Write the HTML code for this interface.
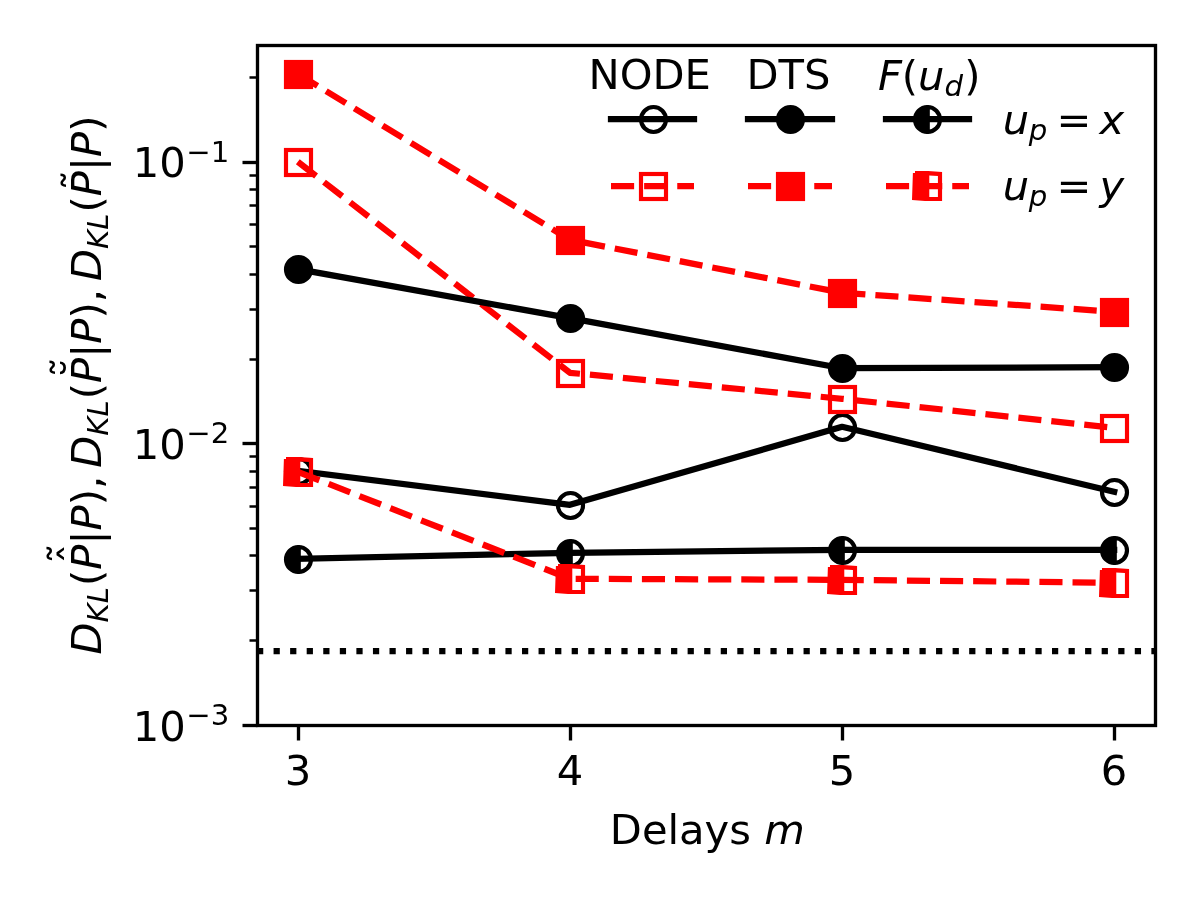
<!DOCTYPE html>
<html lang="en">
<head>
<meta charset="utf-8">
<title>KL divergence vs delays</title>
<style>
html,body{margin:0;padding:0;background:#fff;width:1200px;height:900px;overflow:hidden}
svg{display:block}
text{white-space:pre}
.i{font-style:oblique}
.s{font-size:29.167px}
.si{font-size:29.167px;font-style:oblique}
</style>
</head>
<body>
<svg width="1200" height="900" viewBox="0 0 1200 900">
<defs><clipPath id="ax"><rect x="257" y="45" width="898" height="679.75"/></clipPath></defs>
<rect width="1200" height="900" fill="#fff"/>
<g stroke="#000" stroke-width="3.333" fill="none">
<path d="M298.5 725.5 V740.5"/>
<path d="M570.5 725.5 V740.5"/>
<path d="M842.5 725.5 V740.5"/>
<path d="M1114.5 725.5 V740.5"/>
<path d="M257.5 725.5 H242.5"/>
<path d="M257.5 443.5 H242.5"/>
<path d="M257.5 162.5 H242.5"/>
</g>
<g stroke="#000" stroke-width="2.5" fill="none">
<path d="M257.5 640.5 H249.5"/>
<path d="M257.5 590.5 H249.5"/>
<path d="M257.5 555.5 H249.5"/>
<path d="M257.5 528.5 H249.5"/>
<path d="M257.5 506.5 H249.5"/>
<path d="M257.5 487.5 H249.5"/>
<path d="M257.5 471.5 H249.5"/>
<path d="M257.5 456.5 H249.5"/>
<path d="M257.5 359.5 H249.5"/>
<path d="M257.5 309.5 H249.5"/>
<path d="M257.5 274.5 H249.5"/>
<path d="M257.5 246.5 H249.5"/>
<path d="M257.5 224.5 H249.5"/>
<path d="M257.5 205.5 H249.5"/>
<path d="M257.5 189.5 H249.5"/>
<path d="M257.5 175.5 H249.5"/>
<path d="M257.5 77.5 H249.5"/>
</g>
<g clip-path="url(#ax)">
<path d="M297.818 470.8 L569.939 504.8 L842.061 426.8 L1114.182 491.8" fill="none" stroke="#000" stroke-width="6.25" stroke-linejoin="round" stroke-linecap="square"/>
<circle cx="298.5" cy="471.5" r="12.5" fill="none" stroke="#000" stroke-width="4.167"/>
<circle cx="570.5" cy="505.5" r="12.5" fill="none" stroke="#000" stroke-width="4.167"/>
<circle cx="842.5" cy="427.5" r="12.5" fill="none" stroke="#000" stroke-width="4.167"/>
<circle cx="1114.5" cy="492.5" r="12.5" fill="none" stroke="#000" stroke-width="4.167"/>
<path d="M297.818 161.8 L569.939 372.8 L842.061 398.8 L1114.182 427.8" fill="none" stroke="#f00" stroke-width="6.25" stroke-linejoin="round" stroke-dasharray="23.125 10" stroke-linecap="butt"/>
<rect x="286" y="150" width="25" height="25" fill="none" stroke="#f00" stroke-width="4.167" stroke-linejoin="miter"/>
<rect x="558" y="361" width="25" height="25" fill="none" stroke="#f00" stroke-width="4.167" stroke-linejoin="miter"/>
<rect x="830" y="387" width="25" height="25" fill="none" stroke="#f00" stroke-width="4.167" stroke-linejoin="miter"/>
<rect x="1102" y="416" width="25" height="25" fill="none" stroke="#f00" stroke-width="4.167" stroke-linejoin="miter"/>
<path d="M297.818 269.2 L569.939 318.2 L842.061 368.2 L1114.182 367.2" fill="none" stroke="#000" stroke-width="6.25" stroke-linejoin="round" stroke-linecap="square"/>
<circle cx="298.5" cy="269.5" r="12.5" fill="#000" stroke="#000" stroke-width="4.167"/>
<circle cx="570.5" cy="318.5" r="12.5" fill="#000" stroke="#000" stroke-width="4.167"/>
<circle cx="842.5" cy="368.5" r="12.5" fill="#000" stroke="#000" stroke-width="4.167"/>
<circle cx="1114.5" cy="367.5" r="12.5" fill="#000" stroke="#000" stroke-width="4.167"/>
<path d="M297.818 73.8 L569.939 239.8 L842.061 292.8 L1114.182 311.8" fill="none" stroke="#f00" stroke-width="6.25" stroke-linejoin="round" stroke-dasharray="23.125 10" stroke-linecap="butt"/>
<rect x="286" y="62" width="25" height="25" fill="#f00" stroke="#f00" stroke-width="4.167" stroke-linejoin="miter"/>
<rect x="558" y="228" width="25" height="25" fill="#f00" stroke="#f00" stroke-width="4.167" stroke-linejoin="miter"/>
<rect x="830" y="281" width="25" height="25" fill="#f00" stroke="#f00" stroke-width="4.167" stroke-linejoin="miter"/>
<rect x="1102" y="300" width="25" height="25" fill="#f00" stroke="#f00" stroke-width="4.167" stroke-linejoin="miter"/>
<path d="M297.818 558.8 L569.939 552.8 L842.061 549.8 L1114.182 549.8" fill="none" stroke="#000" stroke-width="6.25" stroke-linejoin="round" stroke-linecap="square"/>
<path d="M298.5 547 A12.5 12.5 0 0 0 298.5 572 Z" fill="#000" stroke="#000" stroke-width="4.167" stroke-linejoin="round"/><path d="M298.5 547 A12.5 12.5 0 0 1 298.5 572 Z" fill="none" stroke="#000" stroke-width="4.167" stroke-linejoin="round"/>
<path d="M570.5 541 A12.5 12.5 0 0 0 570.5 566 Z" fill="#000" stroke="#000" stroke-width="4.167" stroke-linejoin="round"/><path d="M570.5 541 A12.5 12.5 0 0 1 570.5 566 Z" fill="none" stroke="#000" stroke-width="4.167" stroke-linejoin="round"/>
<path d="M842.5 538 A12.5 12.5 0 0 0 842.5 563 Z" fill="#000" stroke="#000" stroke-width="4.167" stroke-linejoin="round"/><path d="M842.5 538 A12.5 12.5 0 0 1 842.5 563 Z" fill="none" stroke="#000" stroke-width="4.167" stroke-linejoin="round"/>
<path d="M1114.5 538 A12.5 12.5 0 0 0 1114.5 563 Z" fill="#000" stroke="#000" stroke-width="4.167" stroke-linejoin="round"/><path d="M1114.5 538 A12.5 12.5 0 0 1 1114.5 563 Z" fill="none" stroke="#000" stroke-width="4.167" stroke-linejoin="round"/>
<path d="M297.818 471.8 L569.939 578.8 L842.061 579.8 L1114.182 582.8" fill="none" stroke="#f00" stroke-width="6.25" stroke-linejoin="round" stroke-dasharray="23.125 10" stroke-linecap="butt"/>
<polygon points="286,456.9 300.16,456.9 300.16,487.1 296,487 283,486 283.9,459 286,459" fill="#f00"/><path d="M299 456.97 L313.08 458 L313.08 487.08 L299 487.08 Z M300.16 461.5 L308.92 462 L308.92 482.92 L300.16 482.92 Z" fill="#f00" fill-rule="evenodd"/>
<polygon points="558,563.9 572.16,563.9 572.16,594.1 568,594 555,593 555.9,566 558,566" fill="#f00"/><path d="M571 563.97 L585.08 565 L585.08 594.08 L571 594.08 Z M572.16 568.5 L580.92 569 L580.92 589.92 L572.16 589.92 Z" fill="#f00" fill-rule="evenodd"/>
<polygon points="830,564.9 844.16,564.9 844.16,595.1 840,595 827,594 827.9,567 830,567" fill="#f00"/><path d="M843 564.97 L857.08 566 L857.08 595.08 L843 595.08 Z M844.16 569.5 L852.92 570 L852.92 590.92 L844.16 590.92 Z" fill="#f00" fill-rule="evenodd"/>
<polygon points="1102,567.9 1116.16,567.9 1116.16,598.1 1112,598 1099,597 1099.9,570 1102,570" fill="#f00"/><path d="M1115 567.97 L1129.08 569 L1129.08 598.08 L1115 598.08 Z M1116.16 572.5 L1124.92 573 L1124.92 593.92 L1116.16 593.92 Z" fill="#f00" fill-rule="evenodd"/>
<path d="M257 651 L1155 651" fill="none" stroke="#000" stroke-width="6.25" stroke-linejoin="round" stroke-dasharray="6.25 10.312" stroke-linecap="butt"/>
</g>
<rect x="257.5" y="45.5" width="898" height="680" fill="none" stroke="#000" stroke-width="3.333" stroke-linejoin="miter"/>
<path d="M611 119 L694 119" fill="none" stroke="#000" stroke-width="6.25" stroke-linejoin="round" stroke-linecap="square"/>
<circle cx="653.5" cy="119.5" r="12.5" fill="none" stroke="#000" stroke-width="4.167"/>
<path d="M611 186 L694 186" fill="none" stroke="#f00" stroke-width="6.25" stroke-linejoin="round" stroke-dasharray="23.125 10" stroke-linecap="butt"/>
<rect x="641" y="174" width="25" height="25" fill="none" stroke="#f00" stroke-width="4.167" stroke-linejoin="miter"/>
<path d="M748 119 L832 119" fill="none" stroke="#000" stroke-width="6.25" stroke-linejoin="round" stroke-linecap="square"/>
<circle cx="790.5" cy="119.5" r="12.5" fill="#000" stroke="#000" stroke-width="4.167"/>
<path d="M748 186 L832 186" fill="none" stroke="#f00" stroke-width="6.25" stroke-linejoin="round" stroke-dasharray="23.125 10" stroke-linecap="butt"/>
<rect x="778" y="174" width="25" height="25" fill="#f00" stroke="#f00" stroke-width="4.167" stroke-linejoin="miter"/>
<path d="M886 119 L969 119" fill="none" stroke="#000" stroke-width="6.25" stroke-linejoin="round" stroke-linecap="square"/>
<path d="M927.5 107 A12.5 12.5 0 0 0 927.5 132 Z" fill="#000" stroke="#000" stroke-width="4.167" stroke-linejoin="round"/><path d="M927.5 107 A12.5 12.5 0 0 1 927.5 132 Z" fill="none" stroke="#000" stroke-width="4.167" stroke-linejoin="round"/>
<path d="M886 186 L969 186" fill="none" stroke="#f00" stroke-width="6.25" stroke-linejoin="round" stroke-dasharray="23.125 10" stroke-linecap="butt"/>
<polygon points="915,170.9 929.16,170.9 929.16,201.1 925,201 912,200 912.9,173 915,173" fill="#f00"/><path d="M928 170.97 L942.08 172 L942.08 201.08 L928 201.08 Z M929.16 175.5 L937.92 176 L937.92 196.92 L929.16 196.92 Z" fill="#f00" fill-rule="evenodd"/>
<g font-family="'DejaVu Sans', 'Liberation Sans', sans-serif" font-size="41.667" fill="#000">
<text x="298.1" y="785.1" text-anchor="middle">3</text>
<text x="570.1" y="785.1" text-anchor="middle">4</text>
<text x="842.1" y="785.1" text-anchor="middle">5</text>
<text x="1114.1" y="785.1" text-anchor="middle">6</text>
<text transform="translate(132.8 177)"><tspan x="0" y="0">10</tspan><tspan x="53.418" y="-14.951" class="s">−1</tspan></text>
<text transform="translate(132.8 459)"><tspan x="0" y="0">10</tspan><tspan x="53.418" y="-15.951" class="s">−2</tspan></text>
<text transform="translate(132.8 741)"><tspan x="0" y="0">10</tspan><tspan x="53.418" y="-15.951" class="s">−3</tspan></text>
<text transform="translate(609.8 843.75)"><tspan x="0" y="0">Delays</tspan><tspan x="154.439" y="0" class="i">m</tspan></text>
<text x="588.5" y="88.75">NODE</text>
<text x="746.5" y="88.75">DTS</text>
<text transform="translate(877.9 89.75)"><tspan x="0" y="0" class="i">F</tspan><tspan x="23.966" y="0">(</tspan><tspan x="40.222" y="0" class="i">u</tspan><tspan x="66.63" y="5.736" class="si">d</tspan><tspan x="86.283" y="0">)</tspan></text>
<text transform="translate(1002.8 134.1)"><tspan x="0" y="0" class="i">u</tspan><tspan x="25.908" y="5.736" class="si">p</tspan><tspan x="53.779" y="0">=</tspan><tspan x="96.709" y="0" class="i">x</tspan></text>
<text transform="translate(1002.8 200.1)"><tspan x="0" y="0" class="i">u</tspan><tspan x="25.908" y="5.736" class="si">p</tspan><tspan x="53.779" y="0">=</tspan><tspan x="96.709" y="0" class="i">y</tspan></text>
<g transform="translate(100.9 654.5) rotate(-90)">
<text><tspan x="0" y="0" class="i">D</tspan><tspan x="32.084" y="6.836" class="si">KL</tspan><tspan x="68.599" y="0">(</tspan><tspan x="84.855" y="0" class="i">P</tspan><tspan x="109.981" y="0">|</tspan><tspan x="124.019" y="0" class="i">P</tspan><tspan x="149.146" y="0">),</tspan></text>
<text x="111.33" y="-12.305">̂</text>
<text x="111.526" y="-23.319">̃</text>
<text><tspan x="186.764" y="0" class="i">D</tspan><tspan x="218.848" y="6.836" class="si">KL</tspan><tspan x="255.363" y="0">(</tspan><tspan x="271.619" y="0" class="i">P</tspan><tspan x="296.745" y="0">|</tspan><tspan x="310.783" y="0" class="i">P</tspan><tspan x="335.909" y="0">),</tspan></text>
<text x="297.364" y="-8.724">̆</text>
<text x="297.689" y="-20.252">̃</text>
<text><tspan x="373.527" y="0" class="i">D</tspan><tspan x="405.611" y="6.836" class="si">KL</tspan><tspan x="442.126" y="0">(</tspan><tspan x="458.382" y="0" class="i">P</tspan><tspan x="483.508" y="0">|</tspan><tspan x="497.546" y="0" class="i">P</tspan><tspan x="522.673" y="0">)</tspan></text>
<text x="484.853" y="-9.184">̃</text>
</g>
</g>
</svg>
</body>
</html>
